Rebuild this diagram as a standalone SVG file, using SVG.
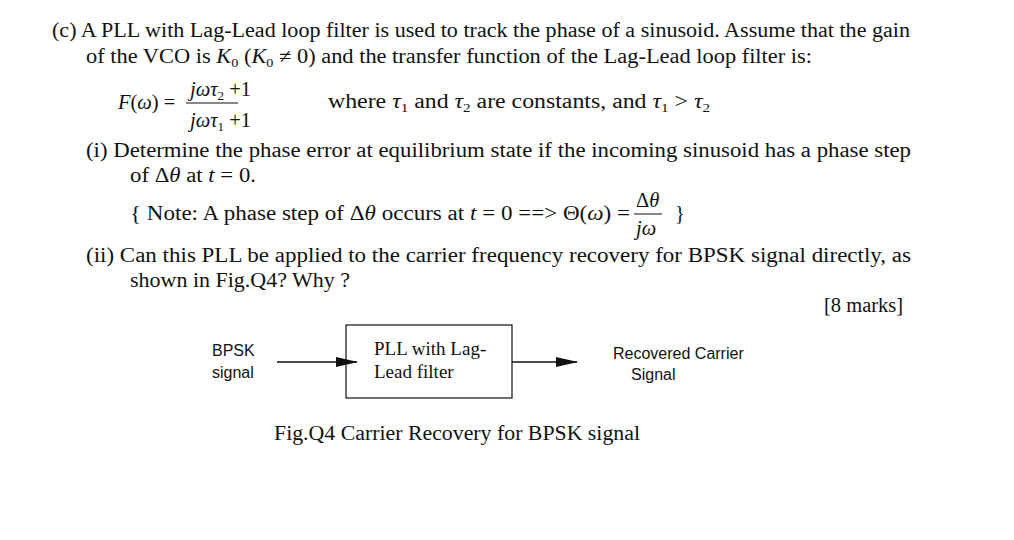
<svg xmlns="http://www.w3.org/2000/svg" width="1014" height="540" viewBox="0 0 1014 540" xml:space="preserve">
<style>
.t{font-family:"Liberation Serif",serif;font-size:20.5px;fill:#111}
.s{font-family:"Liberation Sans",sans-serif;font-size:16px;fill:#111}
.i{font-style:italic}
.sub{font-size:13px}
</style>
<defs><marker id="a" markerWidth="22" markerHeight="10" refX="21" refY="5" orient="auto" markerUnits="userSpaceOnUse"><path d="M0,0 L22,5 L0,10 z" fill="#111"/></marker></defs>
<rect width="1014" height="540" fill="#fff"/>
<text class="t" x="52" y="37" textLength="858" lengthAdjust="spacingAndGlyphs">(c) A PLL with Lag-Lead loop filter is used to track the phase of a sinusoid. Assume that the gain</text>
<text class="t" x="86" y="63" textLength="726" lengthAdjust="spacingAndGlyphs">of the VCO is <tspan class="i">K</tspan><tspan class="sub" dy="4">0</tspan><tspan dy="-4">  (</tspan><tspan class="i">K</tspan><tspan class="sub" dy="4">0</tspan><tspan dy="-4"> ≠ 0) and the transfer function of the Lag-Lead loop filter is:</tspan></text>
<text class="t" x="118" y="109"><tspan class="i">F</tspan>(<tspan class="i">ω</tspan>) =</text>
<text class="t" x="190" y="96"><tspan class="i">jωτ</tspan><tspan class="sub" dy="4">2</tspan><tspan dy="-4"> +1</tspan></text>
<line x1="186" y1="103" x2="238" y2="103" stroke="#111" stroke-width="1"/>
<text class="t" x="190" y="127"><tspan class="i">jωτ</tspan><tspan class="sub" dy="4">1</tspan><tspan dy="-4"> +1</tspan></text>
<text class="t" x="328" y="108" textLength="382" lengthAdjust="spacingAndGlyphs">where <tspan class="i">τ</tspan><tspan class="sub" dy="4">1</tspan><tspan dy="-4"> and  </tspan><tspan class="i">τ</tspan><tspan class="sub" dy="4">2</tspan><tspan dy="-4">  are constants, and  </tspan><tspan class="i">τ</tspan><tspan class="sub" dy="4">1</tspan><tspan dy="-4"> &gt; </tspan><tspan class="i">τ</tspan><tspan class="sub" dy="4">2</tspan></text>
<text class="t" x="86" y="157" textLength="825" lengthAdjust="spacingAndGlyphs">(i)   Determine the phase error at equilibrium state if the incoming sinusoid has a phase step</text>
<text class="t" x="130" y="182" textLength="126" lengthAdjust="spacingAndGlyphs">of Δ<tspan class="i">θ</tspan>  at <tspan class="i">t</tspan> = 0.</text>
<text class="t" x="130" y="220" textLength="500" lengthAdjust="spacingAndGlyphs">{ Note:   A phase step of Δ<tspan class="i">θ</tspan>  occurs at  <tspan class="i">t</tspan> = 0  ==&gt; Θ(<tspan class="i">ω</tspan>) =</text>
<text class="t" x="636" y="207">Δ<tspan class="i">θ</tspan></text>
<line x1="634" y1="214" x2="662" y2="214" stroke="#111" stroke-width="1"/>
<text class="t" x="636" y="235"><tspan class="i">jω</tspan></text>
<text class="t" x="675" y="220">}</text>
<text class="t" x="86" y="262" textLength="825" lengthAdjust="spacingAndGlyphs">(ii)  Can this PLL be applied to the carrier frequency recovery for BPSK signal directly, as</text>
<text class="t" x="130" y="287" textLength="220" lengthAdjust="spacingAndGlyphs">shown in Fig.Q4? Why ?</text>
<text class="t" x="824" y="312">[8 marks]</text>
<g id="bpsk"><text class="s" x="212" y="356">BPSK</text><text class="s" x="212" y="378">signal</text></g>
<g id="pll"><rect x="346" y="325" width="166" height="73" fill="none" stroke="#111" stroke-width="1.2"/>
<text class="t" x="374" y="355" style="font-size:19px">PLL with Lag-</text><text class="t" x="374" y="378" style="font-size:19px">Lead filter</text></g>
<g id="out"><text class="s" x="613" y="359">Recovered Carrier</text><text class="s" x="631" y="380">Signal</text></g>
<g id="connectors" stroke="#111" stroke-width="1.5">
<line x1="277" y1="362" x2="357" y2="362" marker-end="url(#a)"/>
<line x1="512" y1="362" x2="577" y2="362" marker-end="url(#a)"/>
</g>
<text class="t" x="274" y="440" textLength="366" lengthAdjust="spacingAndGlyphs">Fig.Q4 Carrier Recovery for BPSK signal</text>
</svg>
